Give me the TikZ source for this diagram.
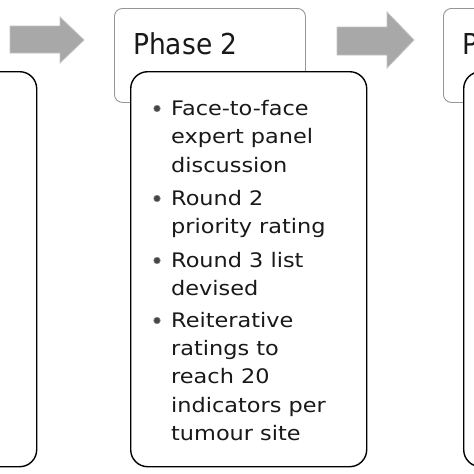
\documentclass[tikz,border=0pt]{standalone}
\usepackage{fontspec}
\newfontfamily\bodyfont[FakeStretch=1.12]{DejaVu Sans}
\newfontfamily\headfont[FakeStretch=0.92]{DejaVu Sans}
\definecolor{arrowgray}{RGB}{168,168,168}
\definecolor{arrowedge}{RGB}{196,196,196}
\definecolor{headedge}{RGB}{150,150,150}
\definecolor{txt}{RGB}{25,25,25}
\definecolor{bulfill}{RGB}{70,70,70}
\tikzset{
  headbox/.style={draw=headedge, line width=0.9pt, fill=white, rounded corners=8pt, anchor=north west, inner sep=0pt},
  contentbox/.style={draw=black, line width=1.4pt, fill=white, rounded corners=17pt, anchor=north west, inner sep=0pt},
  line/.style={anchor=base west, inner sep=0pt, text=txt, font=\bodyfont\fontsize{20}{24}\selectfont},
  headtext/.style={anchor=base west, inner sep=0pt, text=txt, font=\headfont\fontsize{28.8}{34}\selectfont},
  bul/.style={circle, fill=bulfill, draw=gray, line width=0.6pt, minimum size=6.5pt, inner sep=0pt},
  bigarrow/.style={fill=arrowgray, draw=arrowedge, line width=0.8pt}
}
\begin{document}
\begin{tikzpicture}[x=1pt,y=-1pt]
\useasboundingbox[fill=white] (0,0) rectangle (474,474);
\clip (0,0) rectangle (474,474);
% arrows
\coordinate (a1) at (10,26);
\filldraw[bigarrow] (a1) -- (60,26) -- (60,17) -- (84,40) -- (60,63) -- (60,53) -- (10,53) -- cycle;
\coordinate (a2) at (337,27);
\filldraw[bigarrow] (a2) -- (387,27) -- (387,12) -- (414,40) -- (387,68) -- (387,55) -- (337,55) -- cycle;
% phase 1 content box (mostly off-image)
\node[contentbox, minimum width=300pt, minimum height=395pt] (c1) at (-264,71) {};
% phase 2
\node[headbox, minimum width=191pt, minimum height=94pt] (h2) at (114,8) {};
\node[headtext] (t2) at (133,54) {Phase 2};
\node[contentbox, minimum width=236pt, minimum height=395pt] (c2) at (130,71) {};
% phase 3
\node[headbox, minimum width=191pt, minimum height=94pt] (h3) at (443,8) {};
\node[headtext] (t3) at (462,54) {P};
\node[contentbox, minimum width=236pt, minimum height=395pt] (c3) at (463,71) {};
% bullets
\node[bul] (b1) at (157,108.5) {};
\node[bul] (b2) at (157,198.5) {};
\node[bul] (b3) at (157,260.5) {};
\node[bul] (b4) at (157,320.5) {};
% lines
\node[line] (l1) at (171,115) {Face-to-face};
\node[line] (l2) at (171,143) {expert panel};
\node[line] (l3) at (171,172) {discussion};
\node[line] (l4) at (171,205) {Round 2};
\node[line] (l5) at (171,233) {priority rating};
\node[line] (l6) at (171,267) {Round 3 list};
\node[line] (l7) at (171,295) {devised};
\node[line] (l8) at (171,327) {Reiterative};
\node[line] (l9) at (171,355) {ratings to};
\node[line] (l10) at (171,383) {reach 20};
\node[line] (l11) at (171,412) {indicators per};
\node[line] (l12) at (171,440) {tumour site};
\end{tikzpicture}
\end{document}
